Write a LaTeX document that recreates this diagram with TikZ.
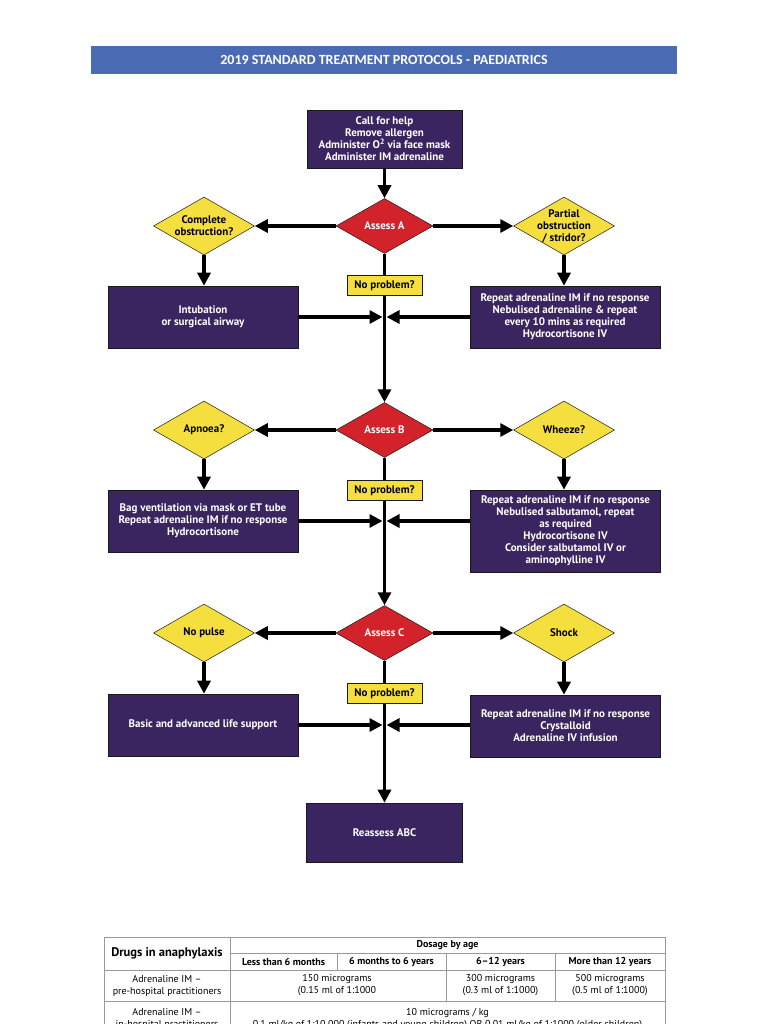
\documentclass[tikz,border=0pt]{standalone}
\usepackage{fontspec}
\setmainfont{PT Sans}
\newfontfamily\headfont{Carlito}
\usetikzlibrary{arrows.meta, shapes.geometric}
\definecolor{ink}{HTML}{1A1A1A}
\definecolor{headbg}{HTML}{4A6AB4}
\definecolor{actionbg}{HTML}{3B2560}
\definecolor{assessbg}{HTML}{D2232A}
\definecolor{querybg}{HTML}{F5DF3F}
\definecolor{rulegray}{HTML}{9A9A9A}
\tikzset{
  boxtext/.style={font=\bfseries\fontsize{11}{12}\selectfont, align=center},
  action/.style={boxtext, draw=ink, fill=actionbg, text=white, line width=0.6pt,
    inner sep=2pt, minimum width=190pt, minimum height=62pt},
  assess/.style={boxtext, diamond, draw=ink, fill=assessbg, text=white, line width=0.5pt,
    inner sep=-5pt, aspect=1.76, minimum width=97pt, minimum height=55pt},
  query/.style={assess, fill=querybg, text=black, minimum width=101pt, minimum height=58pt},
  noprob/.style={boxtext, draw=ink, fill=querybg,
    line width=0.6pt, minimum width=75pt, minimum height=20pt, inner sep=1pt},
  flow/.style={-{Triangle[length=13pt, width=13pt]}, line width=3.6pt, draw=black},
  joint/.style={flow, shorten >=2pt},
  cell/.style={align=center, font=\fontsize{10}{12}\selectfont, inner sep=0pt},
  headcell/.style={cell, font=\bfseries\fontsize{10}{12}\selectfont},
  tablerule/.style={draw=rulegray, line width=0.5pt}
}

\begin{document}
\begin{tikzpicture}[x=1pt, y=-1pt]
\useasboundingbox (0,0) rectangle (768,1024);
\clip (0,0) rectangle (768,1024);

\node[fill=headbg, text=white, font=\headfont\bfseries\fontsize{14}{16}\selectfont,
  minimum width=586pt, minimum height=28pt, inner sep=0pt] (header) at (384,60)
  {2019 STANDARD TREATMENT PROTOCOLS - PAEDIATRICS};

\node[action, minimum width=155pt, minimum height=58pt] (start) at (384.5,139) {
  Call for help\\
  Remove allergen\\
  Administer O\textsuperscript{2} via face mask\\
  Administer IM adrenaline
};

% airway
\node[assess] (assessA) at (384.5,226) {Assess A};
\node[query] (airblock) at (204,226) {Complete\\obstruction?};
\node[query] (stridor) at (564,226) {Partial\\obstruction\\/ stridor?};
\node[noprob] (okA) at (384.5,285.5) {No problem?};
\node[action] (airway) at (203,317) {
  Intubation\\
  or surgical airway
};
\node[action] (nebadr) at (565,317) {
  Repeat adrenaline IM if no response\\
  Nebulised adrenaline \& repeat\\
  every 10 mins as required\\
  Hydrocortisone IV
};
\coordinate (joinA) at (384.5,317);

% breathing
\node[assess] (assessB) at (384.5,430) {Assess B};
\node[query] (apnoea) at (204,430) {Apnoea?};
\node[query] (wheeze) at (564,430) {Wheeze?};
\node[noprob] (okB) at (384.5,490.5) {No problem?};
\node[action] (ventilate) at (203,521) {
  Bag ventilation via mask or ET tube\\
  Repeat adrenaline IM if no response\\
  Hydrocortisone
};
\node[action, minimum height=82pt] (nebsalb) at (565.5,531) {
  Repeat adrenaline IM if no response\\
  Nebulised salbutamol, repeat\\
  as required\\
  Hydrocortisone IV\\
  Consider salbutamol IV or\\
  aminophylline IV
};
\coordinate (joinB) at (384.5,521);

% circulation
\node[assess] (assessC) at (384.5,633) {Assess C};
\node[query] (nopulse) at (204,633) {No pulse};
\node[query] (shock) at (564,633) {Shock};
\node[noprob] (okC) at (384.5,693.5) {No problem?};
\node[action] (lifesupp) at (203,725) {Basic and advanced life support};
\node[action] (fluids) at (565.5,726) {
  Repeat adrenaline IM if no response\\
  Crystalloid\\
  Adrenaline IV infusion
};
\coordinate (joinC) at (384.5,725);

\node[action, minimum width=156pt, minimum height=59pt] (reassess) at (384.5,832.5) {Reassess ABC};

\draw[flow] (start.south) -- (assessA.north);
\draw[flow] (assessA.west) -- (airblock.east);
\draw[flow] (assessA.east) -- (stridor.west);
\draw[flow] (airblock.south) -- (airway.north -| airblock.south);
\draw[flow] (stridor.south) -- (nebadr.north -| stridor.south);
\draw[line width=3.6pt] (assessA.south) -- (okA.north);
\draw[flow] (okA.south) -- (assessB.north);
\draw[joint] (airway.east) -- (joinA);
\draw[joint] (nebadr.west) -- (joinA);

\draw[flow] (assessB.west) -- (apnoea.east);
\draw[flow] (assessB.east) -- (wheeze.west);
\draw[flow] (apnoea.south) -- (ventilate.north -| apnoea.south);
\draw[flow] (wheeze.south) -- (nebsalb.north -| wheeze.south);
\draw[line width=3.6pt] (assessB.south) -- (okB.north);
\draw[flow] (okB.south) -- (assessC.north);
\draw[joint] (ventilate.east) -- (joinB);
\draw[joint] (nebsalb.west |- joinB) -- (joinB);

\draw[flow] (assessC.west) -- (nopulse.east);
\draw[flow] (assessC.east) -- (shock.west);
\draw[flow] (nopulse.south) -- (lifesupp.north -| nopulse.south);
\draw[flow] (shock.south) -- (fluids.north -| shock.south);
\draw[line width=3.6pt] (assessC.south) -- (okC.north);
\draw[flow] (okC.south) -- (reassess.north);
\draw[joint] (lifesupp.east) -- (joinC);
\draw[joint] (fluids.west |- joinC) -- (joinC);

% dosage table
\draw[tablerule] (104,937) rectangle (665,1040);
\draw[tablerule] (230,937) -- (230,1040);
\draw[tablerule] (230,953) -- (665,953);
\draw[tablerule] (104,970) -- (665,970);
\draw[tablerule] (104,1001) -- (665,1001);
\draw[tablerule] (337,953) -- (337,970);
\draw[tablerule] (446,953) -- (446,1001);
\draw[tablerule] (555,953) -- (555,1001);

\node[headcell, font=\bfseries\fontsize{12.5}{14}\selectfont] (drugs) at (167,953.5) {Drugs in anaphylaxis};
\node[headcell] (dosage) at (447.5,945) {Dosage by age};
\node[headcell] (age1) at (283.5,961.5) {Less than 6 months};
\node[headcell] (age2) at (391.5,961.5) {6 months to 6 years};
\node[headcell] (age3) at (500.5,961.5) {6–12 years};
\node[headcell] (age4) at (610,961.5) {More than 12 years};

\node[cell] (prehosp) at (167,985.5) {Adrenaline IM –\\pre-hospital practitioners};
\node[cell] (dose1) at (337,985.5) {150 micrograms\\(0.15 ml of 1:1000};
\node[cell] (dose3) at (500.5,985.5) {300 micrograms\\(0.3 ml of 1:1000)};
\node[cell] (dose4) at (610,985.5) {500 micrograms\\(0.5 ml of 1:1000)};

\node[cell] (inhosp) at (167,1019) {Adrenaline IM –\\in-hospital practitioners};
\node[cell] (perkg) at (447.5,1019) {10 micrograms / kg\\0.1 ml/kg of 1:10 000 (infants and young children) OR 0.01 ml/kg of 1:1000 (older children)};

\end{tikzpicture}
\end{document}
